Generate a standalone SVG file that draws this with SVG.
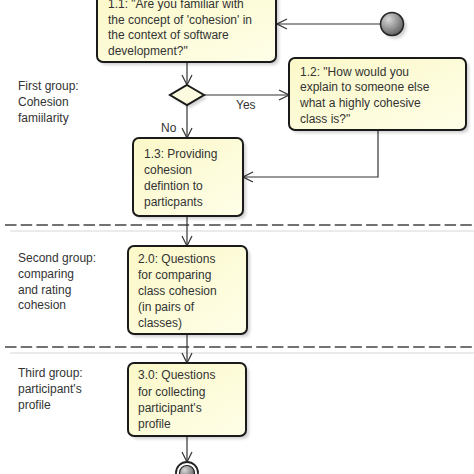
<svg xmlns="http://www.w3.org/2000/svg" width="474" height="474" viewBox="0 0 474 474">
<style>
.box{fill:url(#yg);stroke:#1a1a1a;stroke-width:2}
.t{font-family:"Liberation Sans",Arial,sans-serif;font-size:12px;fill:#333}
.ln{fill:none;stroke:#333;stroke-width:1.2}
.dash{stroke:#444;stroke-width:1.5;stroke-dasharray:11.5 4.2}
.sh{fill:#000;opacity:0.18;filter:url(#bl)}
</style>
<defs>
<linearGradient id="yg" x1="0" y1="0" x2="1" y2="1">
<stop offset="0" stop-color="#fbf8c8"/>
<stop offset="1" stop-color="#fefee8"/>
</linearGradient>
<radialGradient id="gg" cx="0.35" cy="0.3" r="0.8">
<stop offset="0" stop-color="#d8d8d8"/>
<stop offset="1" stop-color="#555"/>
</radialGradient>
<filter id="bl" x="-20%" y="-20%" width="140%" height="140%"><feGaussianBlur stdDeviation="1.5"/></filter>
<marker id="ar" viewBox="0 0 12 12" refX="11" refY="6" markerWidth="12" markerHeight="12" markerUnits="userSpaceOnUse" orient="auto">
<path d="M1,1 L11,6 L1,11" fill="none" stroke="#333" stroke-width="1.2"/>
</marker>
</defs>

<g id="swimlanes">
<line class="dash" x1="5" y1="225" x2="474" y2="225"/>
<line x1="10" y1="231" x2="474" y2="231" stroke="#e4e4e4" stroke-width="1.5"/>
<line class="dash" x1="5" y1="347" x2="474" y2="347"/>
<line x1="10" y1="353" x2="474" y2="353" stroke="#e4e4e4" stroke-width="1.5"/>
</g>

<g id="lane-labels">
<text class="t" x="18" y="90">First group:</text>
<text class="t" x="18" y="106">Cohesion</text>
<text class="t" x="18" y="122">famiilarity</text>
<text class="t" x="18" y="262">Second group:</text>
<text class="t" x="18" y="278">comparing</text>
<text class="t" x="18" y="294">and rating</text>
<text class="t" x="18" y="309">cohesion</text>
<text class="t" x="18" y="377">Third group:</text>
<text class="t" x="18" y="393">participant's</text>
<text class="t" x="18" y="409">profile</text>
</g>

<g id="connectors">
<line class="ln" x1="380" y1="24" x2="277" y2="24" marker-end="url(#ar)"/>
<line class="ln" x1="187" y1="62" x2="187" y2="85" marker-end="url(#ar)"/>
<line class="ln" x1="204" y1="95" x2="289" y2="95" marker-end="url(#ar)"/>
<line class="ln" x1="187" y1="105" x2="187" y2="138" marker-end="url(#ar)"/>
<polyline class="ln" points="378,130 378,177 243,177" marker-end="url(#ar)"/>
<line class="ln" x1="187" y1="216" x2="187" y2="246" marker-end="url(#ar)"/>
<line class="ln" x1="187" y1="334" x2="187" y2="363" marker-end="url(#ar)"/>
<line class="ln" x1="187" y1="436" x2="187" y2="462" marker-end="url(#ar)"/>
<text class="t" x="236" y="109">Yes</text>
<text class="t" x="161" y="132">No</text>
</g>

<g id="start">
<circle cx="395" cy="27" r="11.5" class="sh"/>
<circle cx="392" cy="24" r="11.5" fill="url(#gg)" stroke="#222" stroke-width="1.5"/>
</g>

<g id="n1_1">
<rect x="100" y="-7" width="179" height="72" rx="6" class="sh"/>
<rect x="97" y="-10" width="179" height="72" rx="6" class="box"/>
<text class="t" x="108" y="8">1.1: "Are you familiar with</text>
<text class="t" x="108" y="24">the concept of 'cohesion' in</text>
<text class="t" x="108" y="39">the context of software</text>
<text class="t" x="108" y="55">development?"</text>
</g>

<g id="decision">
<polygon points="190,88 207,98 190,108 173,98" class="sh"/>
<polygon points="187,85 204,95 187,105 170,95" fill="#fcfbe0" stroke="#1a1a1a" stroke-width="2"/>
</g>

<g id="n1_2">
<rect x="292" y="61" width="177" height="72" rx="6" class="sh"/>
<rect x="289" y="58" width="177" height="72" rx="6" class="box"/>
<text class="t" x="300" y="76">1.2: "How would you</text>
<text class="t" x="300" y="91">explain to someone else</text>
<text class="t" x="300" y="107">what a highly cohesive</text>
<text class="t" x="300" y="123">class is?"</text>
</g>

<g id="n1_3">
<rect x="136" y="141" width="110" height="78" rx="6" class="sh"/>
<rect x="133" y="138" width="110" height="78" rx="6" class="box"/>
<text class="t" x="144" y="158">1.3: Providing</text>
<text class="t" x="144" y="174">cohesion</text>
<text class="t" x="144" y="190">defintion to</text>
<text class="t" x="144" y="206">particpants</text>
</g>

<g id="n2_0">
<rect x="131" y="249" width="119" height="88" rx="6" class="sh"/>
<rect x="128" y="246" width="119" height="88" rx="6" class="box"/>
<text class="t" x="138" y="263">2.0: Questions</text>
<text class="t" x="138" y="279">for comparing</text>
<text class="t" x="138" y="295">class cohesion</text>
<text class="t" x="138" y="311">(in pairs of</text>
<text class="t" x="138" y="327">classes)</text>
</g>

<g id="n3_0">
<rect x="131" y="366" width="118" height="73" rx="6" class="sh"/>
<rect x="128" y="363" width="118" height="73" rx="6" class="box"/>
<text class="t" x="138" y="379">3.0: Questions</text>
<text class="t" x="138" y="396">for collecting</text>
<text class="t" x="138" y="412">participant's</text>
<text class="t" x="138" y="428">profile</text>
</g>

<g id="end">
<circle cx="187" cy="473" r="11" fill="#fff" stroke="#222" stroke-width="1.8"/>
<circle cx="187" cy="473" r="7.5" fill="url(#gg)" stroke="#222" stroke-width="1.2"/>
</g>
</svg>
